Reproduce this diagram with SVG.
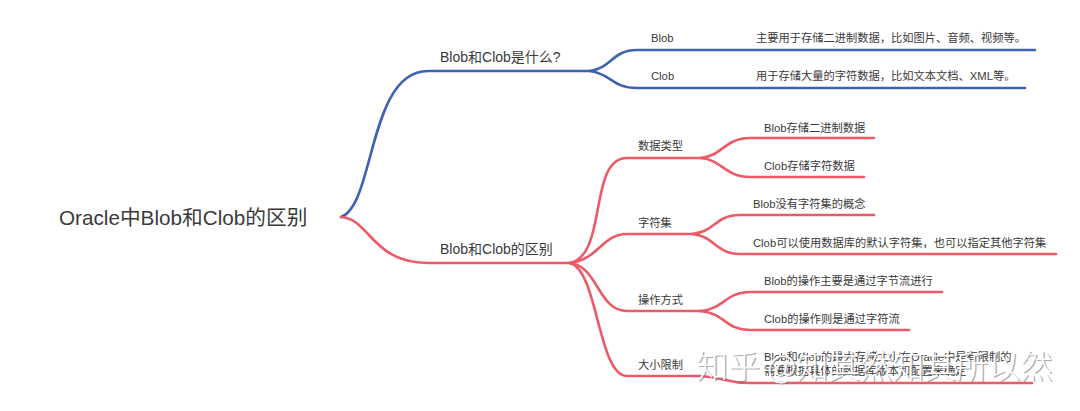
<svg xmlns="http://www.w3.org/2000/svg" width="1080" height="411" viewBox="0 0 1080 411">
<style>
text{font-family:"Liberation Sans","Noto Sans CJK SC",sans-serif;fill:#3a3a3a}
.r{font-size:20.7px}.m{font-size:14px}.s{font-size:11.25px}
#connectors path{fill:none;stroke-width:2.6;stroke-linecap:round}
.b path{stroke:#3f62b4}.p path{stroke:#ec5a68}
.wm{font-family:"Noto Sans CJK SC",sans-serif;font-size:32px;font-weight:300}
</style>
<rect width="1080" height="411" fill="#fff"/>
<g id="connectors">
<g class="b">
<path d="M341 217C375 205 368 71 428 71H590"/>
<path d="M590 71C612 68 612 50 637 50H1035"/>
<path d="M590 71C612 74 612 88 637 88H1025"/>
</g>
<g class="p">
<path d="M341 217C370 219 372 263 428 263H570"/>
<path d="M570 263C608 255 588 158 627 158H705"/>
<path d="M570 263C598 260 602 234 627 234H692"/>
<path d="M570 263C598 266 598 311 627 311H700"/>
<path d="M570 263C598 270 598 376 627 376H700"/>
<path d="M701 158C722 156 725 138 750 138H874"/>
<path d="M701 158C722 160 725 177 750 177H864"/>
<path d="M692 234C715 232 715 215 740 215H874"/>
<path d="M692 234C715 236 715 254 740 254H1056"/>
<path d="M700 311C725 309 725 292 750 292H942"/>
<path d="M700 311C725 313 725 330 750 330H909"/>
<path d="M700 376C725 377 725 383 750 383H1032"/>
</g>
</g>
<g id="root"><text class="r" x="59" y="225">Oracle中Blob和Clob的区别</text></g>
<g id="n-what"><text class="m" x="440" y="62">Blob和Clob是什么?</text></g>
<g id="n-diff"><text class="m" x="440" y="254">Blob和Clob的区别</text></g>
<g id="n-blob"><text class="s" x="651" y="42">Blob</text><text class="s" x="756" y="42">主要用于存储二进制数据，比如图片、音频、视频等。</text></g>
<g id="n-clob"><text class="s" x="651" y="80">Clob</text><text class="s" x="756" y="80">用于存储大量的字符数据，比如文本文档、XML等。</text></g>
<g id="n-type"><text class="s" x="638" y="150">数据类型</text></g>
<g id="n-type1"><text class="s" x="764" y="132">Blob存储二进制数据</text></g>
<g id="n-type2"><text class="s" x="764" y="170">Clob存储字符数据</text></g>
<g id="n-charset"><text class="s" x="638" y="227">字符集</text></g>
<g id="n-cs1"><text class="s" x="753" y="208">Blob没有字符集的概念</text></g>
<g id="n-cs2"><text class="s" x="753" y="247">Clob可以使用数据库的默认字符集，也可以指定其他字符集</text></g>
<g id="n-op"><text class="s" x="638" y="304">操作方式</text></g>
<g id="n-op1"><text class="s" x="764" y="285">Blob的操作主要是通过字节流进行</text></g>
<g id="n-op2"><text class="s" x="764" y="323">Clob的操作则是通过字符流</text></g>
<g id="n-size"><text class="s" x="638" y="369">大小限制</text></g>
<g id="n-size1"><text class="s" x="764" y="361">Blob和Clob的最大存储大小在Oracle中是有限制的</text><text class="s" x="764" y="375">需要根据具体的数据库版本和配置来确定</text></g>
<text class="wm" x="697.5" y="379" style="fill:#777" opacity=".6">知乎 @知其然知其所以然</text>
<text class="wm" x="696" y="377.5" style="fill:#fff">知乎 @知其然知其所以然</text>
</svg>
